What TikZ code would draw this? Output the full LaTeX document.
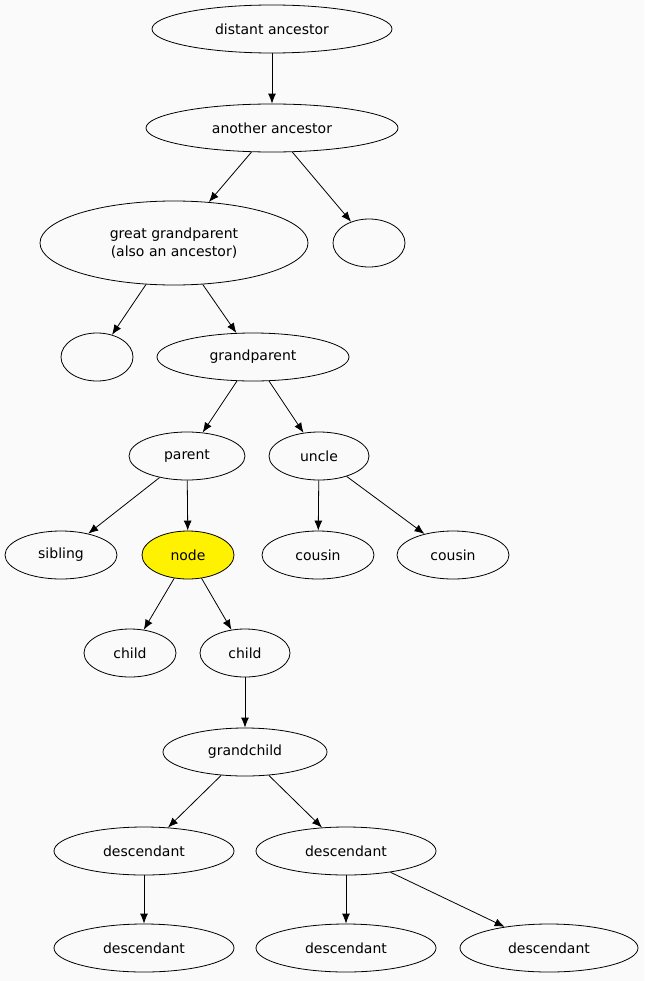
\documentclass[tikz,border=0pt]{standalone}
\usepackage{fontspec}
\setmainfont{DejaVu Sans}
\usetikzlibrary{shapes.geometric,arrows.meta}
\begin{document}
\begin{tikzpicture}[x=0.75pt,y=-0.75pt,
  ell/.style={ellipse,draw,line width=0.6pt,inner sep=0pt,font=\fontsize{10.5}{14}\selectfont,align=center},
  arr/.style={-{Latex[length=7.5pt,width=6pt]},line width=0.6pt}]
\useasboundingbox (0,0) rectangle (644,981);
\fill[white!98!black] (0,0) rectangle (644,981);
\newcommand{\en}[5]{\node[ell,minimum width=#3*1.5pt,minimum height=#4*1.5pt] (#1) at (#2) {#5};}
\en{da}{272,29}{120}{24}{distant ancestor}
\en{aa}{272,128}{126}{24}{another ancestor}
\en{gg}{174,243}{134}{42}{great grandparent\\(also an ancestor)}
\en{e1}{369,243}{36}{24}{}
\en{e2}{97,357}{36}{24}{}
\en{gp}{253,357}{96}{24}{grandparent}
\en{pa}{187,456}{58}{24}{parent}
\en{un}{319,456}{50}{24}{uncle}
\en{si}{61,555}{56}{24}{sibling}
\node[ell,fill=yellow,minimum width=92*0.75pt,minimum height=48*0.75pt] (no) at (188,555) {node};
\en{c1}{318,555}{56}{24}{cousin}
\en{c2}{453,555}{56}{24}{cousin}
\en{ch1}{130,653}{46}{24}{child}
\en{ch2}{245,653}{45}{24}{child}
\en{gc}{245,752}{82}{24}{grandchild}
\en{d1}{144,851}{90}{24}{descendant}
\en{d2}{346,851}{90}{24}{descendant}
\en{d3}{144,948}{90}{24}{descendant}
\en{d4}{346,948}{90}{24}{descendant}
\en{d5}{549,948}{89}{24}{descendant}
\foreach \a/\b in {da/aa,aa/gg,aa/e1,gg/e2,gg/gp,gp/pa,gp/un,pa/si,pa/no,un/c1,un/c2,no/ch1,no/ch2,ch2/gc,gc/d1,gc/d2,d1/d3,d2/d4,d2/d5}
  \draw[arr] (\a) -- (\b);
\end{tikzpicture}
\end{document}
